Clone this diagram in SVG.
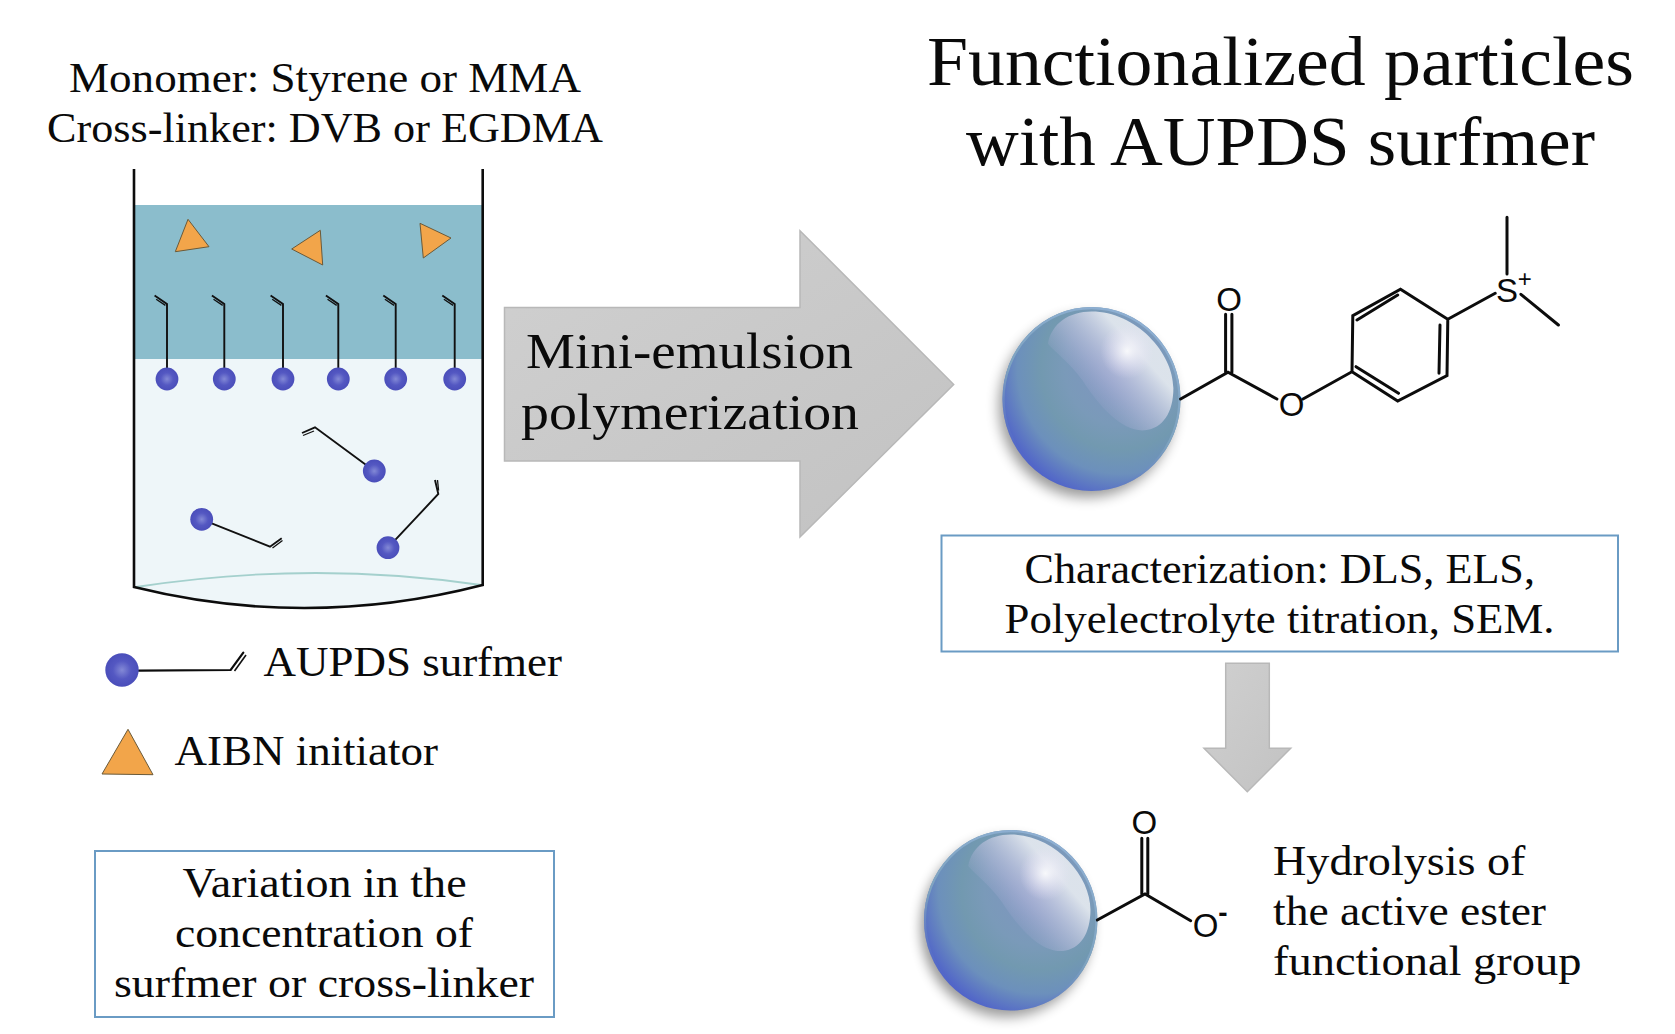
<svg xmlns="http://www.w3.org/2000/svg" xmlns:xlink="http://www.w3.org/1999/xlink" width="1675" height="1034" viewBox="0 0 1675 1034">
<style>
text{font-family:"Liberation Serif","Times New Roman",serif;fill:#0a0a0a}
.m{font-size:43px}
.t{font-size:69px}
.a{font-size:51px}
.c{font-family:"Liberation Sans",Arial,sans-serif;font-size:33px;text-anchor:middle}
.bond{stroke:#0c0c0c;stroke-width:3;fill:none;stroke-linecap:round;stroke-linejoin:miter}
.thin{stroke:#111;stroke-width:1.9;fill:none;stroke-linejoin:miter}
.v{stroke:#111;stroke-width:1.3;fill:none}
.box{fill:#fff;stroke:#6a9bc4;stroke-width:2}
.tri{fill:#f2a54a;stroke:#6a5a3a;stroke-width:1}
.arrow{stroke:#b8b8b8;stroke-width:1.5}
</style>
<defs>
<radialGradient id="ballG"><stop offset="0" stop-color="#8389d6"/><stop offset=".55" stop-color="#5458c2"/><stop offset="1" stop-color="#4a4eba"/></radialGradient>
<linearGradient id="arrG" x1="0" y1="0" x2="1" y2="1"><stop offset="0" stop-color="#d0d0d0"/><stop offset="1" stop-color="#c2c2c2"/></linearGradient>
<radialGradient id="sph" cx=".66" cy=".33" r=".74" fx=".66" fy=".33"><stop offset="0" stop-color="#8094c2"/><stop offset=".42" stop-color="#7a9ab9"/><stop offset=".6" stop-color="#7299b0"/><stop offset=".78" stop-color="#6c90bc"/><stop offset="1" stop-color="#4e60ca"/></radialGradient>
<linearGradient id="rim" x1=".75" y1="0" x2=".3" y2="1"><stop offset="0" stop-color="#8fb0d4"/><stop offset=".55" stop-color="#7ea3bf"/><stop offset="1" stop-color="#5066c8" stop-opacity="0"/></linearGradient>
<linearGradient id="hl" gradientUnits="userSpaceOnUse" x1="-15" y1="-5" x2="45" y2="-60"><stop offset="0" stop-color="#a9a9d8" stop-opacity="0"/><stop offset=".45" stop-color="#bfc0e0" stop-opacity=".5"/><stop offset="1" stop-color="#e4e9ef" stop-opacity=".92"/></linearGradient>
<radialGradient id="spot" gradientUnits="userSpaceOnUse" cx="40" cy="-52" r="30"><stop offset="0" stop-color="#fff" stop-opacity=".85"/><stop offset="1" stop-color="#e6e0f6" stop-opacity="0"/></radialGradient>
<filter id="blur" x="-30%" y="-30%" width="160%" height="160%"><feGaussianBlur stdDeviation="7"/></filter>
<g id="sphere">
<circle cx="-5" cy="8" r="99" fill="#000" opacity=".4" filter="url(#blur)"/>
<circle r="100" fill="url(#sph)"/>
<circle r="98.8" fill="none" stroke="url(#rim)" stroke-width="2.4"/>
<path d="M-49,-60C-45,-82-25,-95 0,-95C50,-95 92,-50 92,-12C92,15 80,32 60,34C35,36 10,10-10,-20C-25,-40-40,-50-49,-60Z" fill="url(#hl)"/>
<path d="M-49,-60C-45,-82-25,-95 0,-95C50,-95 92,-50 92,-12C92,15 80,32 60,34C35,36 10,10-10,-20C-25,-40-40,-50-49,-60Z" fill="url(#spot)"/>
</g>
<circle id="ball" r="11.4" fill="url(#ballG)"/>
<g id="up"><path class="thin" d="M0,0V-75L-12.4,-83.5"/><path class="v" d="M-10.8,-79.8L-1.6,-73.6"/><use xlink:href="#ball" href="#ball"/></g>
</defs>
<rect width="1675" height="1034" fill="#fff"/>

<g id="beaker">
<path d="M134,587V205H483V585Q308,630 134,587Z" fill="#eef6f9"/>
<rect x="134" y="205" width="349" height="154" fill="#8bbdcc"/>
<path d="M136,587Q310,560 481,585" fill="none" stroke="#a4d0cd" stroke-width="1.8"/>
<path d="M134,169V587Q308,630 482.7,585V169" fill="none" stroke="#0c0c0c" stroke-width="2.6"/>
</g>
<g id="initiators">
<polygon class="tri" points="188,219.3 209,246.7 175.3,251.7"/>
<polygon class="tri" points="320.3,230.3 291.7,249 322.7,265"/>
<polygon class="tri" points="420,223.3 451,238 423.3,258"/>
</g>
<g id="surfmers">
<use xlink:href="#up" href="#up" x="167" y="379"/>
<use xlink:href="#up" href="#up" x="224.3" y="379"/>
<use xlink:href="#up" href="#up" x="283" y="379"/>
<use xlink:href="#up" href="#up" x="338.3" y="379"/>
<use xlink:href="#up" href="#up" x="395.7" y="379"/>
<use xlink:href="#up" href="#up" x="454.7" y="379"/>
<path class="thin" d="M374.3,471L315,427.3L302,433"/><path class="v" d="M314,431L303,435.5"/><use xlink:href="#ball" href="#ball" x="374.3" y="471"/>
<path class="thin" d="M201.7,519.3L270,546.7L281.7,538.3"/><path class="v" d="M272.500,548L282.500,540.500"/><use xlink:href="#ball" href="#ball" x="201.7" y="519.3"/>
<path class="thin" d="M388,547.700L438.300,494L435,480"/><path class="v" d="M438.600,490.500L437.500,480"/><use xlink:href="#ball" href="#ball" x="388" y="547.700"/>
</g>

<g id="connectors">
<polygon class="arrow" fill="url(#arrG)" points="504.500,307.600 800,307.600 800,230.700 953.700,384.500 800,537 800,461 504.500,461"/>
<polygon class="arrow" fill="url(#arrG)" points="1225.700,663.300 1269.300,663.300 1269.300,748.300 1290.700,748.300 1247.300,791.700 1204,748.300 1225.700,748.300"/>
</g>

<g id="label-reagents">
<text class="m" x="69" y="92" textLength="512" lengthAdjust="spacingAndGlyphs">Monomer: Styrene or MMA</text>
<text class="m" x="47" y="142" textLength="556" lengthAdjust="spacingAndGlyphs">Cross-linker: DVB or EGDMA</text>
</g>
<g id="label-title">
<text class="t" x="927" y="85" textLength="707" lengthAdjust="spacingAndGlyphs">Functionalized particles</text>
<text class="t" x="966" y="165" textLength="629" lengthAdjust="spacingAndGlyphs">with AUPDS surfmer</text>
</g>
<g id="label-process">
<text class="a" x="526" y="368" textLength="327" lengthAdjust="spacingAndGlyphs">Mini-emulsion</text>
<text class="a" x="521" y="428.500" textLength="338" lengthAdjust="spacingAndGlyphs">polymerization</text>
</g>
<g id="legend-surfmer">
<path class="bond" style="stroke-width:2.2" d="M138.700,670.700L230.700,670L243.300,652.700"/><path class="v" style="stroke-width:1.6" d="M234.500,671L246,655"/>
<circle cx="122" cy="670" r="16.700" fill="url(#ballG)"/>
<text class="m" x="263.500" y="676" textLength="298.500" lengthAdjust="spacingAndGlyphs">AUPDS surfmer</text>
</g>
<g id="legend-initiator">
<polygon class="tri" points="128,729.300 153,774.700 102,774"/>
<text class="m" x="174.500" y="765" textLength="263.500" lengthAdjust="spacingAndGlyphs">AIBN initiator</text>
</g>
<g id="box-variation">
<rect class="box" x="95" y="851" width="459" height="166"/>
<text class="m" x="182.600" y="897" textLength="284" lengthAdjust="spacingAndGlyphs">Variation in the</text>
<text class="m" x="175" y="947" textLength="298" lengthAdjust="spacingAndGlyphs">concentration of</text>
<text class="m" x="114" y="997" textLength="420" lengthAdjust="spacingAndGlyphs">surfmer or cross-linker</text>
</g>
<g id="box-characterization">
<rect class="box" x="941.500" y="535.500" width="676.500" height="116"/>
<text class="m" x="1024.500" y="583" textLength="510.500" lengthAdjust="spacingAndGlyphs">Characterization: DLS, ELS,</text>
<text class="m" x="1004.500" y="633" textLength="550" lengthAdjust="spacingAndGlyphs">Polyelectrolyte titration, SEM.</text>
</g>
<g id="particle-ester">
<use xlink:href="#sphere" href="#sphere" transform="translate(1091.500,399) scale(.89,.92)"/>
<path class="bond" d="M1180.600,399L1228,372.300L1276.900,399M1225.600,372.300V314.300M1231.900,372.300V314.300M1303,399L1352,371.700L1352.800,315.700L1400.500,289.300L1447.800,319.300L1447,375.700L1397.700,401L1352,371.700M1357,320L1397.700,295M1440,325L1439,373.300M1356,366.700L1398.500,393.300M1447.800,319.300L1495.200,293.300M1507,274V217.300M1520.900,294.300L1558.400,325"/>
<text class="c" x="1229" y="311">O</text>
<text class="c" x="1291.500" y="416">O</text>
<text class="c" x="1507" y="302">S</text>
<text class="c" x="1524.800" y="287" style="font-size:24px">+</text>
</g>
<g id="particle-acid">
<use xlink:href="#sphere" href="#sphere" transform="translate(1010.700,920.300) scale(.867,.903)"/>
<path class="bond" d="M1097.300,920L1145,894L1190.700,920.700M1141.800,894V838.300M1147.800,894V838.300"/>
<text class="c" x="1144.300" y="834">O</text>
<text class="c" x="1205.500" y="937">O</text>
<text class="c" x="1223" y="922" style="font-size:28px;font-weight:bold">-</text>
</g>
<g id="label-hydrolysis">
<text class="m" x="1273" y="874.500" textLength="252.500" lengthAdjust="spacingAndGlyphs">Hydrolysis of</text>
<text class="m" x="1273" y="925" textLength="273" lengthAdjust="spacingAndGlyphs">the active ester</text>
<text class="m" x="1273" y="975" textLength="308.600" lengthAdjust="spacingAndGlyphs">functional group</text>
</g>
</svg>
